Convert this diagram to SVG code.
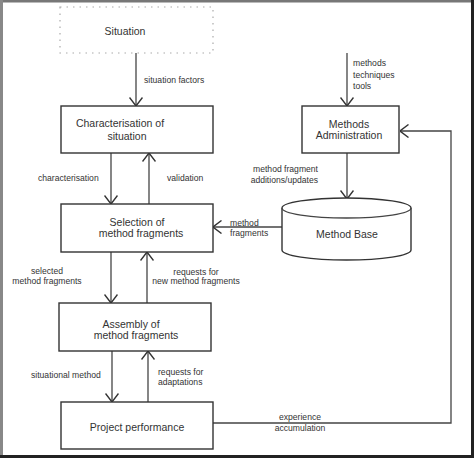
<svg xmlns="http://www.w3.org/2000/svg" width="474" height="458" viewBox="0 0 474 458">
<style>
.box{fill:#fff;stroke:#333;stroke-width:1.4}
.dot{fill:#fff;stroke:#aaa;stroke-width:1.2;stroke-dasharray:1.5 5}
.ln{fill:none;stroke:#444;stroke-width:1.3}
.nt{font-family:"Liberation Sans",Arial,sans-serif;font-size:10.5px;fill:#333;text-anchor:middle}
.lt{font-family:"Liberation Sans",Arial,sans-serif;font-size:8.6px;fill:#333}
</style>
<defs>
<marker id="ah" viewBox="0 0 9 14" refX="9" refY="7" markerWidth="9" markerHeight="14" markerUnits="userSpaceOnUse" orient="auto">
<path d="M0.5,0.5 L9,7 L0.5,13.5" fill="none" stroke="#333" stroke-width="1.4"/>
</marker>
</defs>
<rect x="0" y="0" width="474" height="458" fill="#fff"/>
<rect x="0" y="0" width="474" height="2.5" fill="#777"/>
<rect x="0" y="0" width="3" height="458" fill="#888"/>
<rect x="471" y="0" width="3" height="458" fill="#222"/>
<rect x="0" y="455" width="474" height="3" fill="#222"/>

<g id="connectors">
<line class="ln" x1="136" y1="53" x2="136" y2="106" marker-end="url(#ah)"/>
<line class="ln" x1="111" y1="153" x2="111" y2="204" marker-end="url(#ah)"/>
<line class="ln" x1="149" y1="204" x2="149" y2="153" marker-end="url(#ah)"/>
<line class="ln" x1="111" y1="252" x2="111" y2="303" marker-end="url(#ah)"/>
<line class="ln" x1="147" y1="303" x2="147" y2="252" marker-end="url(#ah)"/>
<line class="ln" x1="112" y1="351" x2="112" y2="402" marker-end="url(#ah)"/>
<line class="ln" x1="148" y1="402" x2="148" y2="351" marker-end="url(#ah)"/>
<line class="ln" x1="347" y1="53" x2="347" y2="106" marker-end="url(#ah)"/>
<line class="ln" x1="347" y1="153" x2="347" y2="199" marker-end="url(#ah)"/>
<line class="ln" x1="282" y1="227" x2="213" y2="227" marker-end="url(#ah)"/>
<polyline class="ln" points="213,423 451,423 451,131 400,131" marker-end="url(#ah)"/>
<text class="lt" x="144" y="83">situation factors</text>
<text class="lt" x="38" y="181">characterisation</text>
<text class="lt" x="167" y="181">validation</text>
<text class="lt" text-anchor="middle" x="47" y="274">selected</text>
<text class="lt" text-anchor="middle" x="47" y="284">method fragments</text>
<text class="lt" text-anchor="middle" x="196" y="275">requests for</text>
<text class="lt" text-anchor="middle" x="196" y="284">new method fragments</text>
<text class="lt" x="31" y="378">situational method</text>
<text class="lt" x="158" y="375">requests for</text>
<text class="lt" x="158" y="385">adaptations</text>
<text class="lt" x="353" y="66">methods</text>
<text class="lt" x="353" y="78">techniques</text>
<text class="lt" x="353" y="89">tools</text>
<text class="lt" text-anchor="end" x="318" y="172">method fragment</text>
<text class="lt" text-anchor="end" x="318" y="183">additions/updates</text>
<text class="lt" x="230" y="226">method</text>
<text class="lt" x="230" y="236">fragments</text>
<text class="lt" text-anchor="middle" x="300" y="420">experience</text>
<text class="lt" text-anchor="middle" x="300" y="431">accumulation</text>
</g>

<g id="situation">
<rect class="dot" x="60" y="7" width="153" height="46"/>
<text class="nt" x="125" y="35">Situation</text>
</g>
<g id="characterisation">
<rect class="box" x="61" y="106" width="152" height="47"/>
<text class="nt" x="120" y="127">Characterisation of</text>
<text class="nt" x="127" y="140">situation</text>
</g>
<g id="selection">
<rect class="box" x="61" y="204" width="152" height="48"/>
<text class="nt" x="137" y="226">Selection of</text>
<text class="nt" x="141" y="237">method fragments</text>
</g>
<g id="assembly">
<rect class="box" x="59" y="303" width="152" height="48"/>
<text class="nt" x="131" y="328">Assembly of</text>
<text class="nt" x="136" y="339">method fragments</text>
</g>
<g id="project">
<rect class="box" x="61" y="402" width="152" height="47"/>
<text class="nt" x="137" y="431">Project performance</text>
</g>
<g id="methods-admin">
<rect class="box" x="302" y="106" width="97" height="47"/>
<text class="nt" x="349" y="128">Methods</text>
<text class="nt" x="349" y="139">Administration</text>
</g>
<g id="method-base">
<path class="box" d="M282,208 L282,250 A64.5,10 0 0 0 411,250 L411,208 A64.5,10 0 0 0 282,208 Z"/>
<path class="ln" d="M282,208 A64.5,10 0 0 0 411,208" stroke="#333" stroke-width="1.4"/>
<text class="nt" x="347" y="238">Method Base</text>
</g>
</svg>
